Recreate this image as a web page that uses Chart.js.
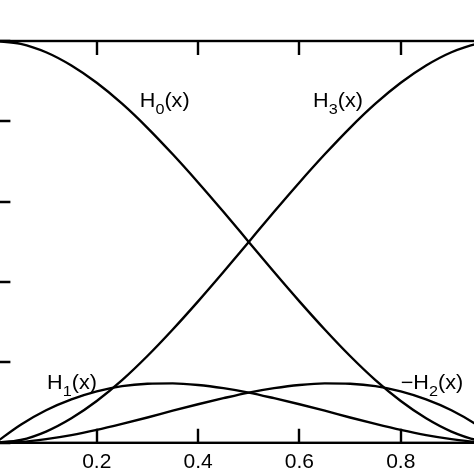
<!DOCTYPE html>
<html><head><meta charset="utf-8">
<script src="https://cdn.jsdelivr.net/npm/chart.js@4"></script>
<style>
html,body{margin:0;padding:0;background:#fff;overflow:hidden}
#frame{position:relative;width:474px;height:474px;overflow:hidden;background:#fff}
#wrap{position:absolute;left:-50px;top:0;width:600px;height:482px}
</style></head><body>
<div id="frame"><div id="wrap"><canvas id="c"></canvas></div></div>
<script>
const xs = [0,0.05,0.1,0.15,0.2,0.25,0.3,0.35,0.4,0.45,0.5,0.55,0.6,0.65,0.7,0.75,0.8,0.85,0.9,0.95,1];
const h0 = [1,0.993,0.972,0.939,0.896,0.844,0.784,0.718,0.648,0.575,0.5,0.425,0.352,0.282,0.216,0.156,0.104,0.061,0.028,0.007,0];
const h3 = [0,0.007,0.028,0.061,0.104,0.156,0.216,0.282,0.352,0.425,0.5,0.575,0.648,0.718,0.784,0.844,0.896,0.939,0.972,0.993,1];
const h1 = [0,0.045,0.081,0.108,0.128,0.141,0.147,0.148,0.144,0.136,0.125,0.111,0.096,0.080,0.063,0.047,0.032,0.019,0.009,0.002,0];
const mh2 = [0,0.002,0.009,0.019,0.032,0.047,0.063,0.080,0.096,0.111,0.125,0.136,0.144,0.148,0.147,0.141,0.128,0.108,0.081,0.045,0];
const xTickLabels = [0.2,0.4,0.6,0.8];
const xTickMarks = [0,0.2,0.4,0.6,0.8,1];
const yTickMarks = [0,0.2,0.4,0.6,0.8,1];
const curveNames = ['H0(x)','H1(x)','−H2(x)','H3(x)'];

const FONT = '"Liberation Sans", Arial, Helvetica, sans-serif';
function pts(ys){ return xs.map((x,i)=>({x:x,y:ys[i]})); }
function ds(name, ys){
  return {label:name, data:pts(ys), borderColor:'#000', borderWidth:2.4, pointRadius:0,
          fill:false, cubicInterpolationMode:'monotone', clip:false};
}

const annot = {
  id:'annot',
  afterDraw(chart, args, opts){
    const ctx = chart.ctx, xS = chart.scales.x, yS = chart.scales.y, a = chart.chartArea;
    ctx.save();
    ctx.strokeStyle = '#000'; ctx.lineWidth = 2.4; ctx.lineCap = 'butt';
    ctx.strokeRect(a.left, a.top, a.right - a.left, a.bottom - a.top);
    ctx.beginPath();
    xTickMarks.forEach(v=>{
      const px = Math.round(xS.getPixelForValue(v));
      ctx.moveTo(px, a.bottom); ctx.lineTo(px, a.bottom - 14);
      ctx.moveTo(px, a.top); ctx.lineTo(px, a.top + 14);
    });
    yTickMarks.forEach(v=>{
      const py = Math.round(yS.getPixelForValue(v));
      ctx.moveTo(a.left, py); ctx.lineTo(a.left + 15, py);
      ctx.moveTo(a.right, py); ctx.lineTo(a.right - 15, py);
    });
    ctx.stroke();
    ctx.fillStyle = '#000';
    ctx.textBaseline = 'alphabetic';
    opts.items.forEach(it=>{
      const px = xS.getPixelForValue(it.x), py = yS.getPixelForValue(it.y);
      ctx.save();
      ctx.translate(px, py);
      ctx.scale(1.08, 1);
      let cx = 0;
      ctx.font = '20px ' + FONT;
      ctx.fillText(it.pre, cx, 0); cx += ctx.measureText(it.pre).width;
      ctx.font = '15px ' + FONT;
      ctx.fillText(it.sub, cx, 7); cx += ctx.measureText(it.sub).width;
      ctx.font = '20px ' + FONT;
      ctx.fillText(it.post, cx, 0);
      ctx.restore();
    });
    ctx.restore();
  }
};

new Chart(document.getElementById('c'), {
  type:'line',
  data:{ datasets:[ds(curveNames[0],h0), ds(curveNames[1],h1), ds(curveNames[2],mh2), ds(curveNames[3],h3)] },
  options:{
    responsive:true, maintainAspectRatio:false, animation:false,
    layout:{padding:{left:45.4, right:47.9, top:41, bottom:0}},
    plugins:{
      legend:{display:false}, tooltip:{enabled:false},
      annot:{items:[
        {pre:'H', sub:'0', post:'(x)', x:0.285, y:0.835},
        {pre:'H', sub:'3', post:'(x)', x:0.627, y:0.835},
        {pre:'H', sub:'1', post:'(x)', x:0.102, y:0.133},
        {pre:'−H', sub:'2', post:'(x)', x:0.800, y:0.133}
      ]}
    },
    scales:{
      x:{type:'linear', min:0, max:1,
         afterBuildTicks:(s)=>{ s.ticks = xTickLabels.map(v=>({value:v})); },
         grid:{display:false, drawTicks:false, tickLength:0}, border:{display:false},
         ticks:{color:'#000', font:{size:21, family:FONT}, padding:7, autoSkip:false, maxRotation:0,
                callback:(v)=>String(v)}},
      y:{type:'linear', min:0, max:1, display:false}
    }
  },
  plugins:[annot]
});
</script>
</body></html>
